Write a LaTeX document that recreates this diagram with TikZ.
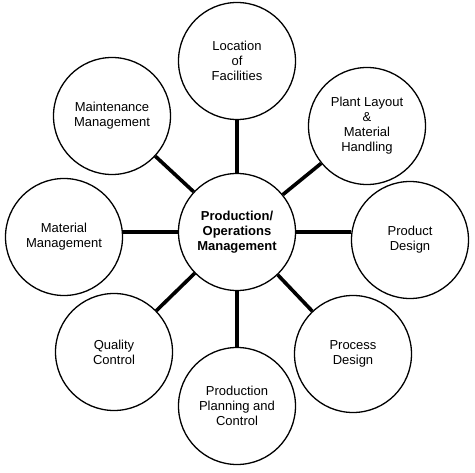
\documentclass[tikz,border=0pt]{standalone}
\usepackage{fontspec}
\setmainfont{Liberation Sans}
\usetikzlibrary{positioning}

\tikzset{
  area/.style={circle, draw=black, line width=1.3pt, minimum size=117pt, inner sep=0pt,
    align=center, font=\fontsize{13}{15}\selectfont},
  hub/.style={area, font=\fontsize{13}{15}\selectfont\bfseries},
  link/.style={line width=3.6pt}
}

\begin{document}
\begin{tikzpicture}[x=1pt, y=-1pt]
% fix the page to the reference size
\useasboundingbox (0,0) rectangle (475,473);

% centre circle
\node[hub] (pom) at (237,232) {Production/\\Operations\\Management};

% surrounding circles
\node[area] (loc) at (237,61) {Location\\of\\Facilities};
\node[area] (plant) at (367,126) {Plant Layout\\\&\\Material\\Handling};
\node[area] (product) at (410,240) {Product\\Design};
\node[area] (process) at (353,354) {Process\\Design};
\node[area] (ppc) at (237,406) {Production\\Planning and\\Control};
\node[area] (quality) at (114,352) {Quality\\Control};
\node[area] (material) at (64,237) {Material\\Management};
\node[area] (maint) at (112,116) {Maintenance\\Management};

% spokes from the centre
\foreach \n in {loc, plant, process, ppc, quality, maint}
  \draw[link] (pom) -- (\n);
\draw[link] (pom.east) -- (pom.east -| product.west);
\draw[link] (pom.west) -- (pom.west -| material.east);

\end{tikzpicture}
\end{document}
